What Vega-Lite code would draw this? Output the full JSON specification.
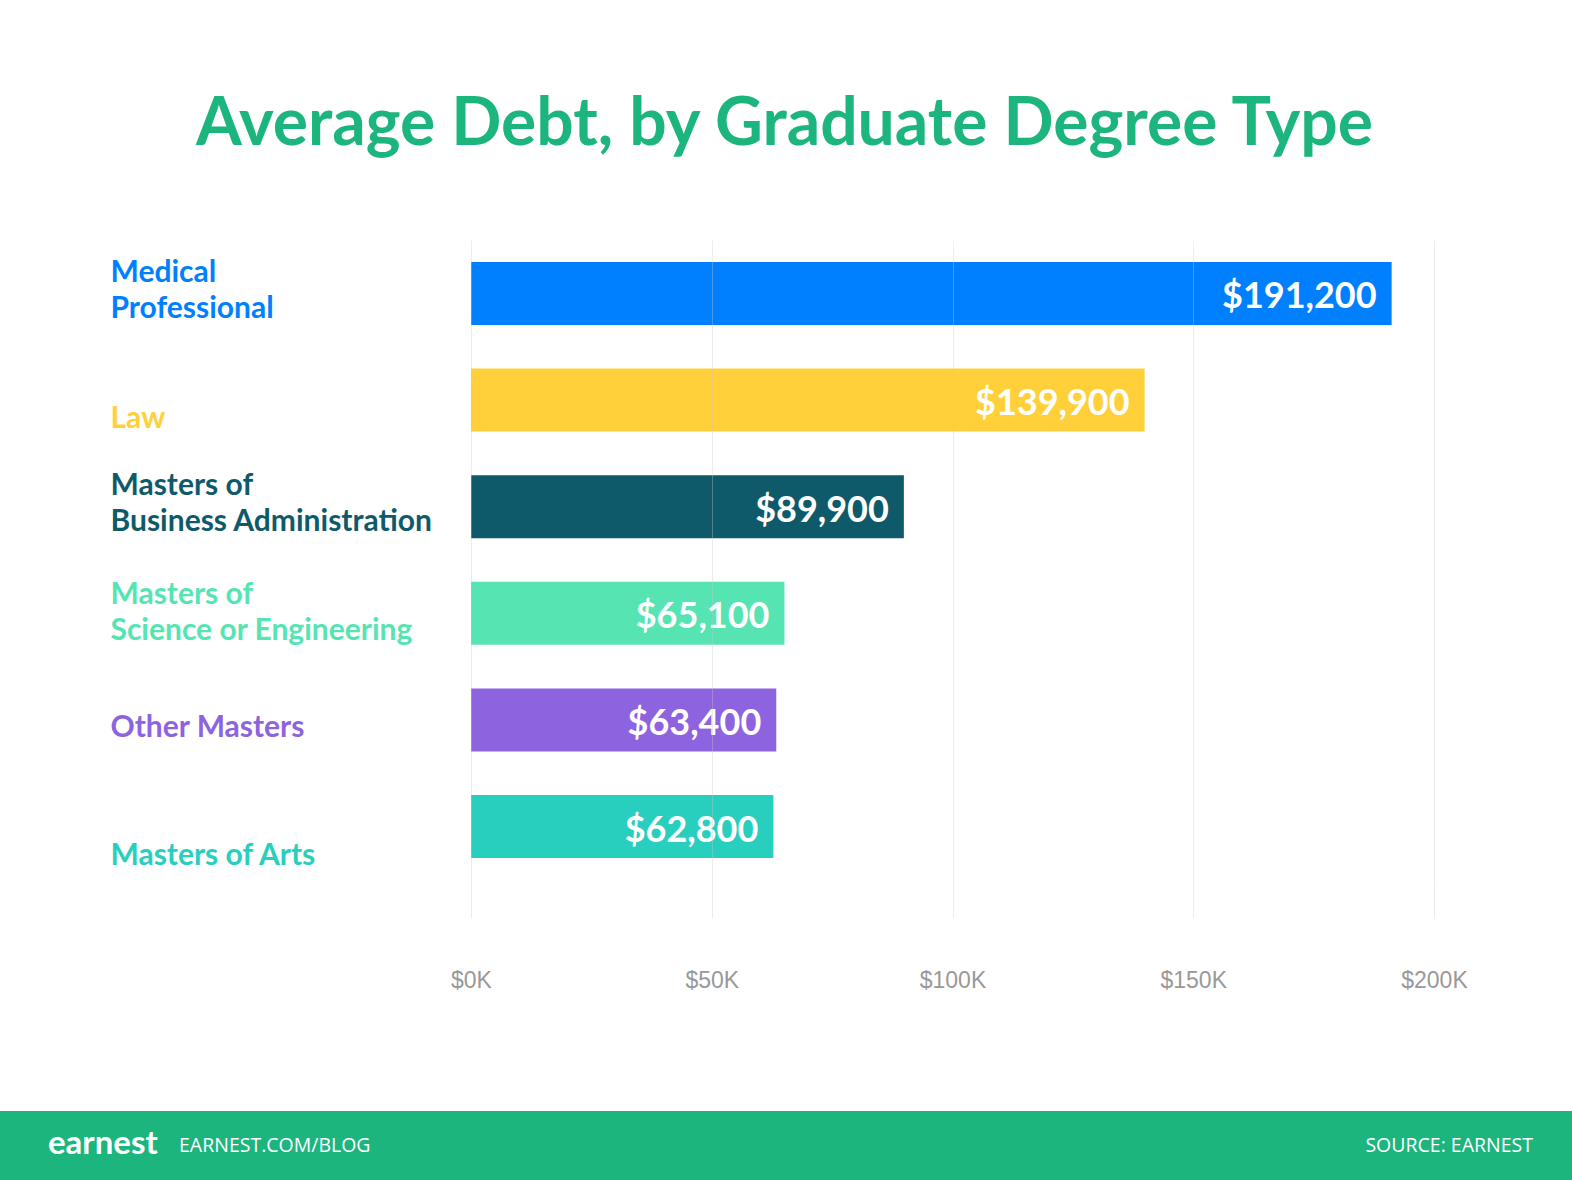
{
  "$schema": "https://vega.github.io/schema/vega-lite/v6.json",
  "width": 963,
  "height": 640,
  "autosize": {"type": "none"},
  "padding": {"left": 471, "top": 240, "right": 138, "bottom": 300},
  "background": "white",
  "title": {
    "text": "Average Debt, by Graduate Degree Type",
    "font": "Lato",
    "fontWeight": "bold",
    "fontSize": 66,
    "color": "#1DB57E",
    "anchor": "middle",
    "frame": "group",
    "dx": -168,
    "offset": 81
  },
  "config": {"view": {"stroke": null}},
  "data": {
    "values": [
      {"degree": "Medical Professional", "debt": 191200},
      {"degree": "Law", "debt": 139900},
      {"degree": "Masters of Business Administration", "debt": 89900},
      {"degree": "Masters of Science or Engineering", "debt": 65100},
      {"degree": "Other Masters", "debt": 63400},
      {"degree": "Masters of Arts", "debt": 62800}
    ]
  },
  "layer": [
    {
      "mark": {"type": "bar"},
      "encoding": {
        "y": {
          "field": "degree",
          "type": "nominal",
          "sort": null,
          "scale": {"paddingInner": 0.409, "paddingOuter": 0.206},
          "axis": {
            "title": null,
            "domain": false,
            "ticks": false,
            "grid": false,
            "labelAlign": "left",
            "labelBaseline": "middle",
            "labelPadding": 361,
            "labelLimit": 420,
            "labelFont": "Lato",
            "labelFontWeight": "bold",
            "labelFontSize": 30,
            "labelLineHeight": 36,
            "labelExpr": "datum.value == 'Medical Professional' ? ['Medical', 'Professional'] : datum.value == 'Masters of Business Administration' ? ['Masters of', 'Business Administration'] : datum.value == 'Masters of Science or Engineering' ? ['Masters of', 'Science or Engineering'] : datum.value",
            "labelColor": {
              "condition": [
                {"test": "datum.value == 'Medical Professional'", "value": "#0080FF"},
                {"test": "datum.value == 'Law'", "value": "#FFD03A"},
                {"test": "datum.value == 'Masters of Business Administration'", "value": "#0E5A6A"},
                {"test": "datum.value == 'Masters of Science or Engineering'", "value": "#56E5B2"},
                {"test": "datum.value == 'Other Masters'", "value": "#8E63E0"}
              ],
              "value": "#29CFBE"
            },
            "labelOffset": {
              "condition": [
                {"test": "datum.value == 'Medical Professional'", "value": -20},
                {"test": "datum.value == 'Law'", "value": 19},
                {"test": "datum.value == 'Masters of Business Administration'", "value": -21},
                {"test": "datum.value == 'Masters of Science or Engineering'", "value": -18},
                {"test": "datum.value == 'Other Masters'", "value": 8}
              ],
              "value": 29
            }
          }
        },
        "x": {
          "field": "debt",
          "type": "quantitative",
          "scale": {"domain": [0, 200000]},
          "axis": {
            "title": null,
            "orient": "bottom",
            "domain": false,
            "values": [0, 50000, 100000, 150000, 200000],
            "grid": true,
            "gridColor": "#c8c8c8",
            "gridOpacity": 0.35,
            "ticks": true,
            "tickSize": 38,
            "tickColor": "#c8c8c8",
            "tickOpacity": 0.35,
            "labelPadding": 51,
            "labelFont": "Liberation Sans",
            "labelFontSize": 23,
            "labelColor": "#999999",
            "labelFlush": false,
            "labelExpr": "'$' + (datum.value / 1000) + 'K'",
            "zindex": 1
          }
        },
        "color": {
          "field": "degree",
          "type": "nominal",
          "scale": {
            "domain": ["Medical Professional", "Law", "Masters of Business Administration", "Masters of Science or Engineering", "Other Masters", "Masters of Arts"],
            "range": ["#0080FF", "#FFD03A", "#0E5A6A", "#56E5B2", "#8E63E0", "#29CFBE"]
          },
          "legend": null
        }
      }
    },
    {
      "mark": {"type": "text", "align": "right", "baseline": "middle", "dx": -15, "dy": 4, "color": "white", "font": "Lato", "fontWeight": "bold", "fontSize": 36},
      "encoding": {
        "y": {"field": "degree", "type": "nominal", "sort": null},
        "x": {"field": "debt", "type": "quantitative"},
        "text": {"field": "debt", "type": "quantitative", "format": "$,d"}
      }
    },
    {
      "data": {"values": [{"band": "footer"}]},
      "mark": {"type": "rect", "color": "#1DB57E", "x": -471, "x2": 1101, "y": 871, "y2": 940},
      "encoding": {}
    },
    {
      "data": {"values": [{"label": "earnest"}]},
      "mark": {"type": "text", "align": "left", "baseline": "middle", "color": "white", "font": "Lato", "fontWeight": "bold", "fontSize": 33, "x": -423, "y": 904},
      "encoding": {"text": {"field": "label"}}
    },
    {
      "data": {"values": [{"label": "EARNEST.COM/BLOG"}]},
      "mark": {"type": "text", "align": "left", "baseline": "middle", "color": "white", "font": "Open Sans", "fontSize": 19.5, "x": -292, "y": 906},
      "encoding": {"text": {"field": "label"}}
    },
    {
      "data": {"values": [{"label": "SOURCE: EARNEST"}]},
      "mark": {"type": "text", "align": "right", "baseline": "middle", "color": "white", "font": "Open Sans", "fontSize": 19.5, "x": 1062, "y": 906},
      "encoding": {"text": {"field": "label"}}
    }
  ]
}
